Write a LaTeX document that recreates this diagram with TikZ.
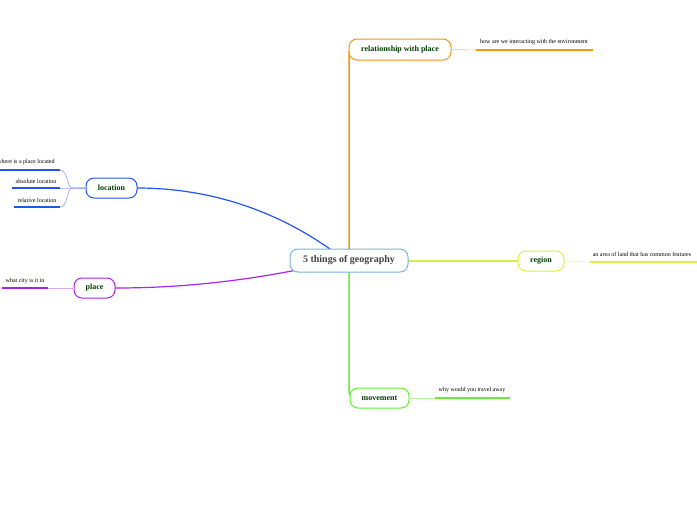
\documentclass[tikz,border=0pt]{standalone}
\usepackage{fontspec}
\setmainfont{Liberation Serif}
\begin{document}
\begin{tikzpicture}[x=1pt,y=-1pt,
  topic/.style={draw=#1,line width=1pt,rounded corners=8pt,fill=white,text=black!20!green!30!black,font=\bfseries\fontsize{8}{9}\selectfont,minimum height=20pt,inner xsep=8pt},
  leaf/.style={font=\fontsize{6}{7}\selectfont,inner sep=1pt,anchor=south}]
\useasboundingbox (0,0) rectangle (697,520);
\definecolor{cblue}{HTML}{2255EE}
\definecolor{corange}{HTML}{F5960F}
\definecolor{cyel}{HTML}{D8F040}
\definecolor{cgreen}{HTML}{66EE33}
\definecolor{cpurp}{HTML}{AA22EE}
\definecolor{ccent}{HTML}{7AB4E0}
% branches
\draw[corange,line width=1.5pt] (349,258) -- (349,57) to[out=90,in=180] (352,49);
\draw[cgreen,line width=1.5pt] (349,262) -- (349,392) to[out=-90,in=180] (354,398);
\draw[cyel,line width=1.5pt] (408,261) -- (518,261);
\draw[cblue,line width=1.2pt] (330,249) .. controls (260,200) and (190,188) .. (137,188);
\draw[cpurp,line width=1.2pt] (297,270) .. controls (220,285) and (160,288) .. (115,288);
\node[topic=ccent,font=\bfseries\fontsize{10}{11}\selectfont,text=black!75,minimum height=23pt,minimum width=118pt] (c) at (349,260.5) {5 things of geography};
\node[topic=corange,minimum width=102pt,minimum height=21pt] (rel) at (400,49.5) {relationship with place};
\node[topic=cyel,minimum width=46pt] (reg) at (541,261) {region};
\node[topic=cgreen,minimum width=59pt] (mov) at (379.5,398) {movement};
\node[topic=cblue,minimum width=51pt] (loc) at (111.5,188) {location};
\node[topic=cpurp,minimum width=41pt] (pla) at (94.5,288) {place};
% leaves
\coordinate (r1) at (476,50); \coordinate (r2) at (593,50);
\draw[corange!50,line width=0.6pt] (rel.east) -- (r1);
\draw[corange,line width=1.2pt] (r1) -- (r2);
\node[leaf] (rt) at (534,46) {how are we interacting with the environment};
\coordinate (g1) at (590,262); \coordinate (g2) at (697,262);
\draw[cyel!50,line width=0.6pt] (reg.east) -- (g1);
\draw[cyel,line width=1.2pt] (g1) -- (g2);
\node[leaf] (gt) at (642,258) {an area of land that has common features};
\coordinate (m1) at (435,398); \coordinate (m2) at (510,398);
\draw[cgreen!50,line width=0.6pt] (mov.east) -- (m1);
\draw[cgreen,line width=1.2pt] (m1) -- (m2);
\node[leaf] (mt) at (472,394) {why would you travel away};
\coordinate (p1) at (48,288); \coordinate (p2) at (2,288);
\draw[cpurp!40,line width=0.6pt] (pla.west) -- (p1);
\draw[cpurp,line width=1.2pt] (p1) -- (p2);
\node[leaf] (pt) at (25,285) {what city is it in};
% location leaves
\coordinate (lb) at (72,188);
\foreach \y/\xs in {170/0,188/12,207/14}{
  \draw[cblue!50,line width=0.6pt] (loc.west) -- (lb) .. controls (67,188) and (68,\y) .. (60,\y);
  \draw[cblue,line width=1.2pt] (60,\y) -- (\xs,\y);
}
\node[leaf] (l1) at (26,166) {where is a place located};
\node[leaf] (l2) at (36,185) {absolute location};
\node[leaf] (l3) at (37,204) {relative location};
\end{tikzpicture}
\end{document}
